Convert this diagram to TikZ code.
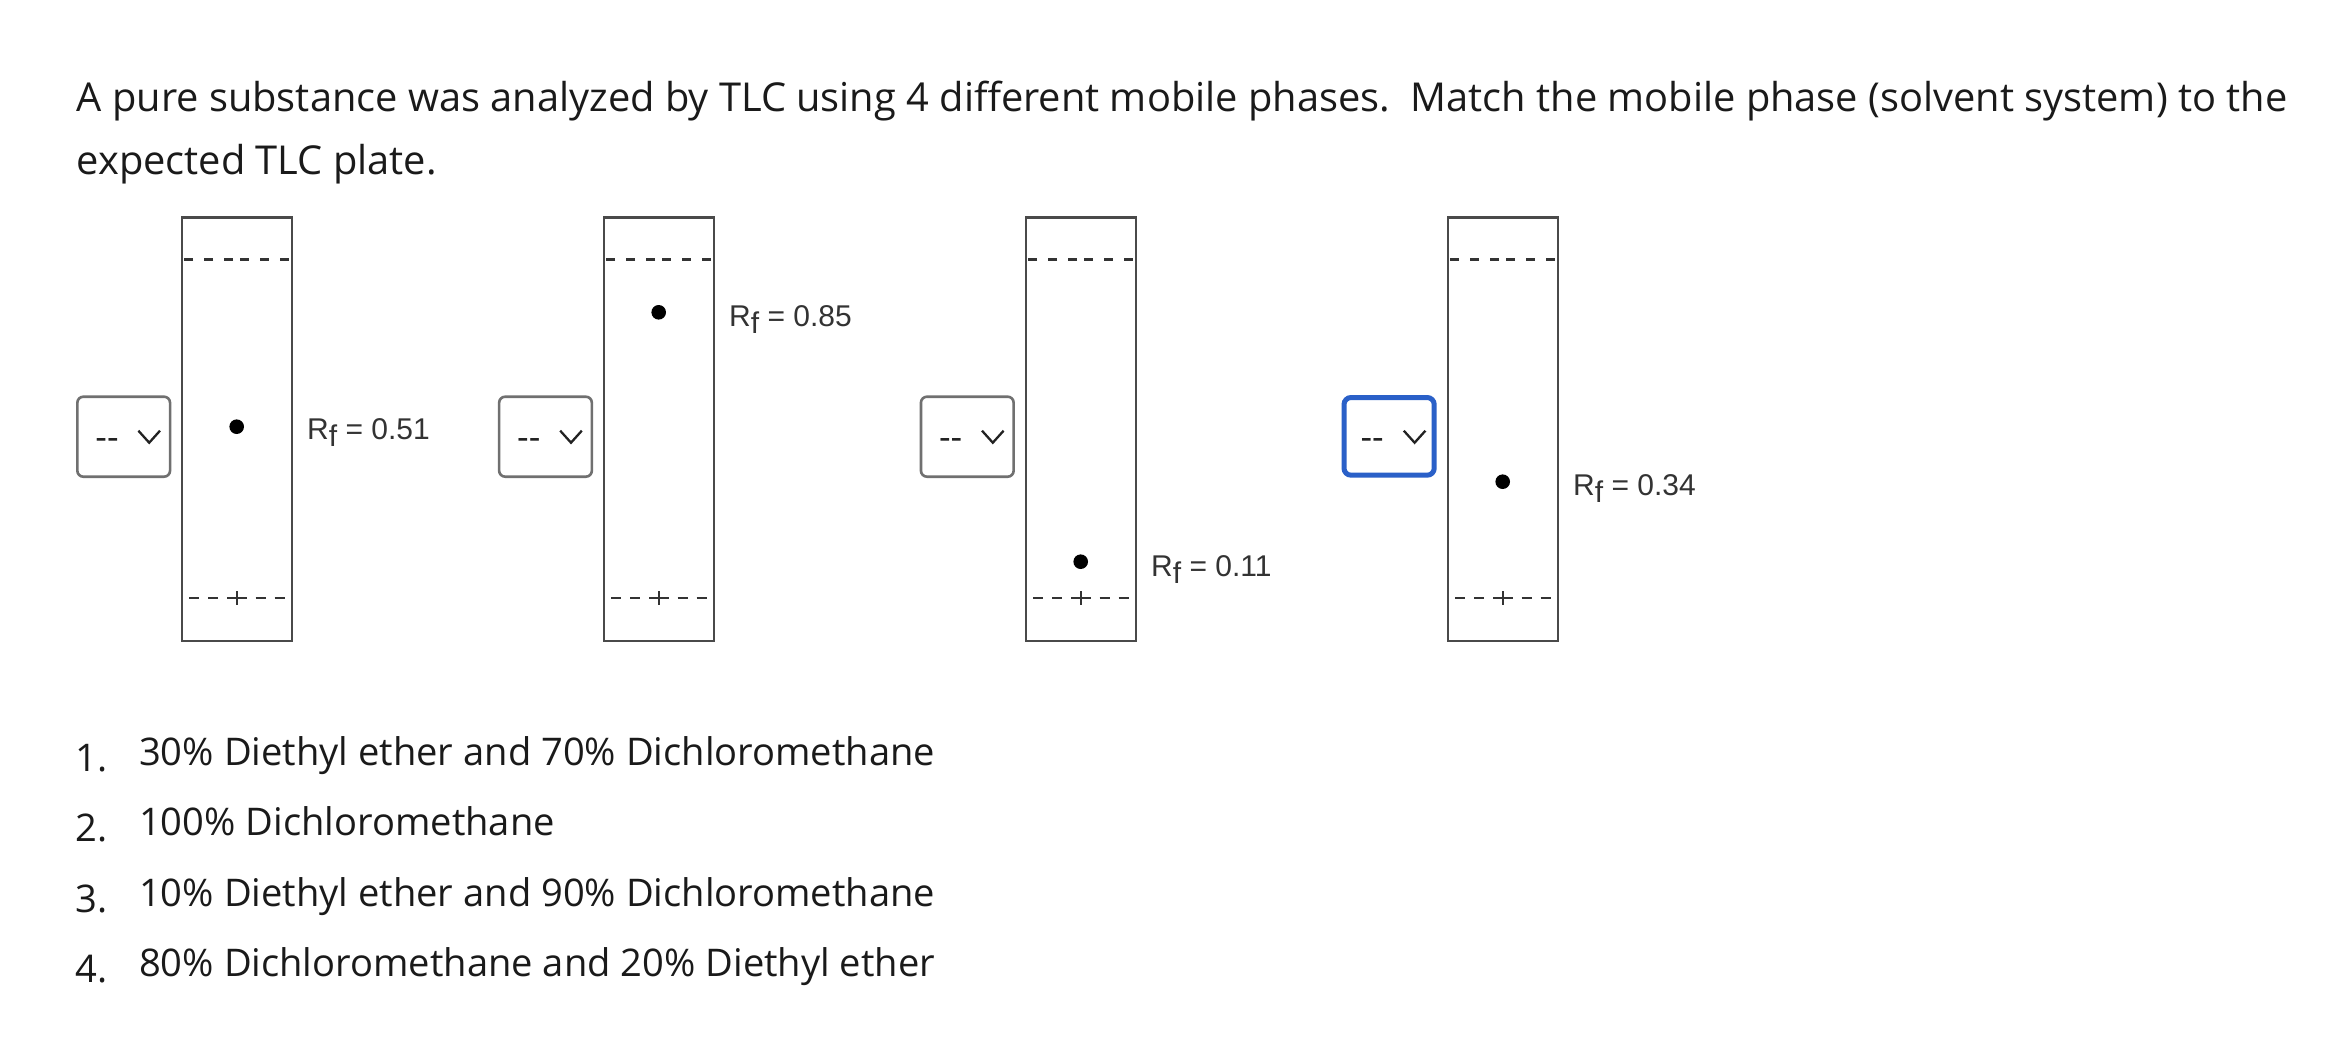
\documentclass[tikz,border=0pt]{standalone}
\usepackage{fontspec}
\setmainfont{Open Sans}
\newfontfamily\rffont{Liberation Sans}
\definecolor{txt}{HTML}{1A1A1A}
\definecolor{rfcol}{HTML}{333333}
\definecolor{platecol}{HTML}{4A4A4A}
\definecolor{dashcol}{HTML}{333333}
\definecolor{boxgray}{HTML}{707070}
\definecolor{focusblue}{HTML}{2A60C8}
\definecolor{chevcol}{HTML}{222222}
\tikzset{
  headtext/.style={anchor=base west, inner sep=0pt, text=txt, font=\fontsize{39.8}{48}\selectfont},
  itemtext/.style={anchor=base west, inner sep=0pt, text=txt, font=\fontsize{38.1}{44}\selectfont},
  tlcplate/.style={draw=platecol, line width=2.4pt, minimum width=110pt, minimum height=423.7pt, inner sep=0pt},
  frontline/.style={draw=dashcol, line width=2.4pt, dash pattern=on 9pt off 11pt},
  originline/.style={draw=dashcol, line width=2.4pt, dash pattern=on 10pt off 9pt},
  ticky/.style={draw=dashcol, line width=2.2pt},
  spot/.style={circle, fill=black, minimum size=14.6pt, inner sep=0pt},
  rflabel/.style={anchor=base west, inner sep=0pt, text=rfcol, font=\rffont\fontsize{30}{36}\selectfont},
  dropbox/.style={draw=boxgray, line width=2.6pt, rounded corners=6pt, minimum width=92.7pt, minimum height=80pt, inner sep=0pt},
  focusbox/.style={draw=focusblue, line width=5pt, rounded corners=7pt, minimum width=90.2pt, minimum height=77.7pt, inner sep=0pt},
  dashtext/.style={anchor=base, inner sep=0pt, text=chevcol, font=\fontsize{36}{40}\selectfont},
  chev/.style={draw=chevcol, line width=2.3pt}
}
\begin{document}
\begin{tikzpicture}[x=1pt,y=-1pt]
\useasboundingbox[fill=white] (0,0) rectangle (2328,1046);

% question text
\node[headtext] (head1) at (76.5,111.7) {A pure substance was analyzed by TLC using 4 different mobile phases.\ \ Match the mobile phase (solvent system) to the};
\node[headtext] (head2) at (76.5,175) {expected TLC plate.};

% TLC plates
\foreach \i/\sy/\ly/\val in {0/426.7/439.3/0.51, 1/312.3/326/0.85, 2/561.7/576/0.11, 3/481.7/495/0.34}{
  \pgfmathsetmacro{\cx}{236.7+422*\i}
  \node[tlcplate] (plate\i) at (\cx,429.35) {};
  \draw[frontline, dash phase=16.5pt] (\cx,259.5) -- ({\cx-55},259.5);
  \draw[frontline, dash phase=16.5pt] (\cx,259.5) -- ({\cx+55},259.5);
  \draw[originline] (\cx,598) -- ({\cx-55},598);
  \draw[originline] (\cx,598) -- ({\cx+55},598);
  \draw[ticky] (\cx,591) -- (\cx,605);
  \node[spot] (spot\i) at (\cx,\sy) {};
  \node[rflabel] (rf\i) at ({\cx+70.3},\ly) {R\raisebox{-7pt}{f} = \val};
}

% drop-down menus
\foreach \i in {0,1,2}{
  \pgfmathsetmacro{\bx}{123.7+421.8*\i}
  \node[dropbox] (menu\i) at (\bx,436.7) {};
  \node[dashtext] (menutext\i) at ({\bx-16.7},449.5) {{-}{-}};
  \draw[chev] ({\bx+14.7},430.7) -- ({\bx+25.5},442.7) -- ({\bx+36.3},430.7);
}
\node[focusbox] (menu3) at (1389.1,436.35) {};
\node[dashtext] (menutext3) at ({1389.1-16.9},449.5) {{-}{-}};
\draw[chev] ({1389.1+14.7},430.7) -- ({1389.1+25.5},442.7) -- ({1389.1+36.3},430.7);

% answer options
\foreach \k/\t in {0/{30\% Diethyl ether and 70\% Dichloromethane},
                   1/{100\% Dichloromethane},
                   2/{10\% Diethyl ether and 90\% Dichloromethane},
                   3/{80\% Dichloromethane and 20\% Diethyl ether}}{
  \pgfmathsetmacro{\by}{765.5+70.4*\k}
  \pgfmathtruncatemacro{\num}{\k+1}
  \node[itemtext] (num\k) at (75.5,{\by+6}) {\num.};
  \node[itemtext] (item\k) at (139,\by) {\t};
}
\end{tikzpicture}
\end{document}
